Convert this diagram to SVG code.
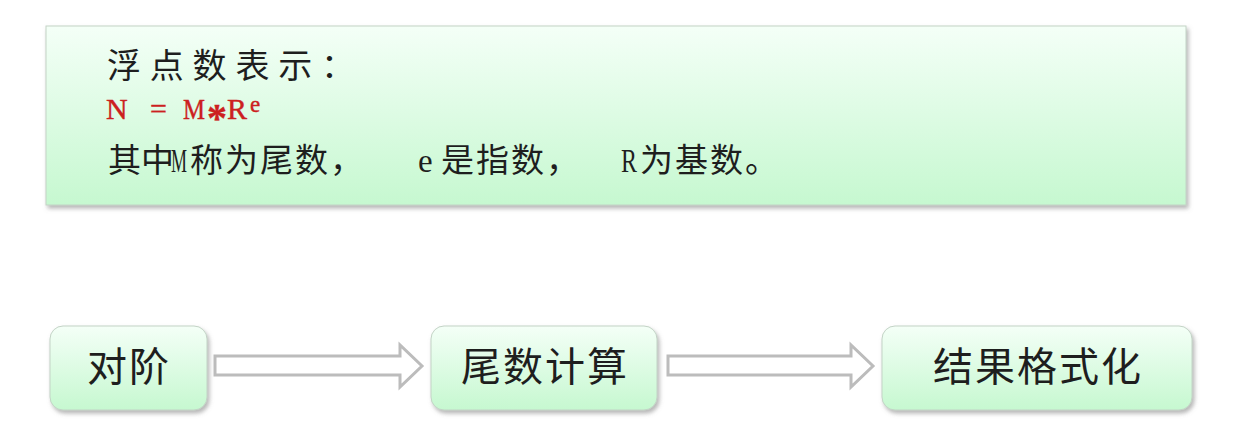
<svg xmlns="http://www.w3.org/2000/svg" width="1236" height="439" viewBox="0 0 1236 439">
<defs>
  <linearGradient id="g" x1="0" y1="0" x2="0" y2="1">
    <stop offset="0" stop-color="#f4fff7"/>
    <stop offset="1" stop-color="#c6f8d0"/>
  </linearGradient>
  <filter id="sh" x="-5%" y="-10%" width="115%" height="130%">
    <feDropShadow dx="2" dy="3" stdDeviation="2" flood-color="#7a7a7a" flood-opacity="0.55"/>
  </filter>
  <style>
    .box{fill:url(#g);stroke:#c3d3c6;stroke-width:1;filter:url(#sh)}
    .cjk{font-family:"Liberation Serif","Noto Sans CJK SC",serif;fill:#1e1e1e}
    .lbl{font-family:"Noto Sans CJK SC",sans-serif;font-size:40px;fill:#1e1e1e;text-anchor:middle;letter-spacing:2px}
    .red{font-family:"Liberation Serif",serif;fill:#cc2020;stroke:#cc2020;stroke-width:0.4}
    .arr{fill:#ffffff;stroke:#bcbcbc;stroke-width:3;stroke-linejoin:miter}
  </style>
</defs>
<rect width="1236" height="439" fill="#ffffff"/>

<g id="info">
  <rect class="box" x="46" y="26" width="1140" height="179"/>
  <text class="cjk" x="107" y="78" font-size="34" textLength="248" lengthAdjust="spacing">浮点数表示：</text>
  <text class="red" font-size="30"><tspan x="106" y="119">N</tspan><tspan x="150" y="119">=</tspan><tspan x="183" y="119" textLength="22" lengthAdjust="spacingAndGlyphs">M</tspan><tspan x="207" y="131" font-size="40" font-weight="bold">*</tspan><tspan x="227" y="119">R</tspan><tspan x="250" y="112" font-size="23">e</tspan></text>
  <text class="cjk" font-size="33" y="172"><tspan x="108">其中</tspan><tspan x="171" textLength="16" lengthAdjust="spacingAndGlyphs">M</tspan><tspan x="190" letter-spacing="2">称为尾数，</tspan><tspan x="418">e</tspan><tspan x="441" letter-spacing="2">是指数，</tspan><tspan x="621" textLength="16" lengthAdjust="spacingAndGlyphs">R</tspan><tspan x="640" letter-spacing="2">为基数。</tspan></text>
</g>

<g id="connectors">
  <polygon class="arr" points="215,356 400,356 400,345 422,366 400,387 400,375 215,375"/>
  <polygon class="arr" points="668,356 851,356 851,345 873,366 851,387 851,375 668,375"/>
</g>

<g id="n1">
  <rect class="box" x="50" y="326" width="157" height="84" rx="13"/>
  <text class="lbl" x="129" y="381">对阶</text>
</g>
<g id="n2">
  <rect class="box" x="431" y="326" width="226" height="84" rx="13"/>
  <text class="lbl" x="545" y="381">尾数计算</text>
</g>
<g id="n3">
  <rect class="box" x="882" y="326" width="310" height="84" rx="13"/>
  <text class="lbl" x="1038" y="381">结果格式化</text>
</g>
</svg>
